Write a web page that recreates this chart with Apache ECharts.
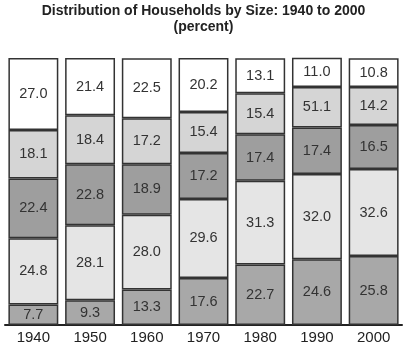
<!DOCTYPE html>
<html>
<head>
<meta charset="utf-8">
<script src="https://cdn.jsdelivr.net/npm/echarts@6/dist/echarts.min.js"></script>
<style>
html,body{margin:0;padding:0;background:#fff;}
#c{width:407px;height:345px;}
</style>
</head>
<body>
<div id="c"></div>
<script>
const years = ['1940','1950','1960','1970','1980','1990','2000'];
// segments from bottom to top
const seg1 = [7.7, 9.3, 13.3, 17.6, 22.7, 24.6, 25.8];
const seg2 = [24.8, 28.1, 28.0, 29.6, 31.3, 32.0, 32.6];
const seg3 = [22.4, 22.8, 18.9, 17.2, 17.4, 17.4, 16.5];
const seg4 = [18.1, 18.4, 17.2, 15.4, 15.4, 15.1, 14.2];
const seg5 = [27.0, 21.4, 22.5, 20.2, 13.1, 11.0, 10.8];
// printed labels (source prints 51.1 for the 1990 fourth segment)
const seg4Labels = ['18.1', '18.4', '17.2', '15.4', '15.4', '51.1', '14.2'];

const colors = ['#a8a8a8', '#e5e5e5', '#9e9e9e', '#d5d5d5', '#ffffff'];
const segs = [seg1, seg2, seg3, seg4, seg5];

const chart = echarts.init(document.getElementById('c'), null, {renderer: 'canvas'});
const series = segs.map((d, i) => ({
  type: 'bar',
  stack: 'total',
  data: d,
  barCategoryGap: '12%',
  itemStyle: {color: colors[i], borderColor: '#333', borderWidth: 1.5},
  label: {
    show: true,
    position: 'inside',
    color: '#333',
    fontSize: 14.5,
    fontFamily: 'Liberation Sans, Arial, sans-serif',
    formatter: (p) => i === 3 ? seg4Labels[p.dataIndex] : p.value.toFixed(1)
  },
  animation: false
}));

chart.setOption({
  animation: false,
  title: {
    text: 'Distribution of Households by Size: 1940 to 2000\n(percent)',
    left: 'center',
    top: -2,
    textStyle: {fontSize: 14, fontWeight: 'bold', color: '#222', fontFamily: 'Liberation Sans, Arial, sans-serif', lineHeight: 16}
  },
  grid: {left: 5, right: 5, top: 58, bottom: 18},
  xAxis: {
    type: 'category',
    data: years,
    axisLine: {lineStyle: {color: '#222', width: 2}},
    axisTick: {show: false},
    axisLabel: {color: '#222', fontSize: 15, margin: 5, fontFamily: 'Liberation Sans, Arial, sans-serif'}
  },
  yAxis: {
    type: 'value',
    min: 0,
    max: 100,
    show: false
  },
  series: series
});
</script>
</body>
</html>
